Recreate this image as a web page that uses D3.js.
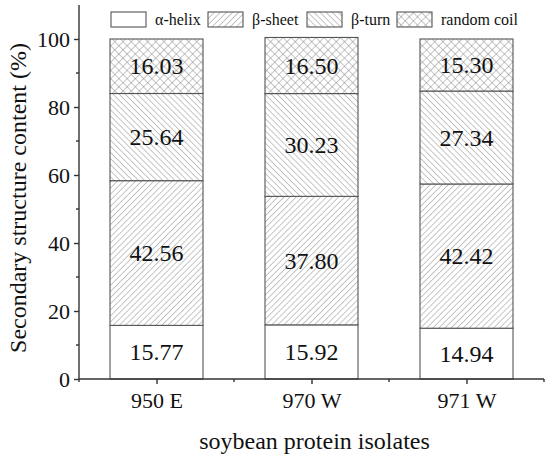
<!DOCTYPE html>
<html>
<head>
<meta charset="utf-8">
<script src="https://cdn.jsdelivr.net/npm/d3@7"></script>
<style>
  body { margin: 0; background: #fff; }
</style>
</head>
<body>
<svg class="chart" width="550" height="459"></svg>
<script>
// data
var samples = ["950 E", "970 W", "971 W"];
var structures = ["α-helix", "β-sheet", "β-turn", "random coil"];
var alphaHelix = [15.77, 15.92, 14.94];
var betaSheet = [42.56, 37.80, 42.42];
var betaTurn = [25.64, 30.23, 27.34];
var randomCoil = [16.03, 16.50, 15.30];
var yTicks = [0, 20, 40, 60, 80, 100];

var serif = "'Liberation Serif', 'Times New Roman', Times, 'DejaVu Serif', serif";

document.addEventListener("DOMContentLoaded", function() {

    var svg = d3.select("svg.chart");
    var left = 79, right = 544, top = 5, bottom = 379;

    var x = d3.scaleLinear().domain([0.5, 3.5]).range([left, right]);
    var y = d3.scaleLinear().domain([0, 110]).range([bottom, top]);
    var barW = x(1.3) - x(0.7);

    // hatch patterns
    var defs = svg.append("defs");
    function hatch(id, angle, size) {
        var p = defs.append("pattern")
            .attr("id", id)
            .attr("patternUnits", "userSpaceOnUse")
            .attr("width", size).attr("height", size)
            .attr("patternTransform", "rotate(" + angle + ")");
        p.append("rect").attr("width", size).attr("height", size).attr("fill", "#fff");
        p.append("line")
            .attr("x1", 0).attr("x2", 0).attr("y1", 0).attr("y2", size)
            .attr("stroke", "#808080").attr("stroke-width", 0.9);
        return p;
    }
    hatch("sheet", 45, 4.3);
    hatch("turn", -45, 4.3);
    var cross = hatch("coil", 45, 5.8);
    cross.append("line")
        .attr("x1", 0).attr("x2", 5.8).attr("y1", 0).attr("y2", 0)
        .attr("stroke", "#808080").attr("stroke-width", 0.9);

    var fills = ["#fff", "url(#sheet)", "url(#turn)", "url(#coil)"];

    var rows = samples.map(function(s, i) {
        return {
            sample: i + 1,
            "α-helix": alphaHelix[i],
            "β-sheet": betaSheet[i],
            "β-turn": betaTurn[i],
            "random coil": randomCoil[i]
        };
    });
    var stacked = d3.stack().keys(structures)(rows);

    var layers = svg.selectAll("g.layer")
        .data(stacked)
        .enter().append("g")
        .attr("class", "layer")
        .attr("fill", function(d, i) { return fills[i]; });

    layers.selectAll("rect")
        .data(function(d) { return d; })
        .enter().append("rect")
        .attr("x", function(d) { return x(d.data.sample) - barW / 2; })
        .attr("y", function(d) { return y(d[1]); })
        .attr("width", barW)
        .attr("height", function(d) { return y(d[0]) - y(d[1]); })
        .attr("stroke", "#555")
        .attr("stroke-width", 1.1);

    layers.selectAll("text")
        .data(function(d) { return d; })
        .enter().append("text")
        .attr("x", function(d) { return x(d.data.sample); })
        .attr("y", function(d) { return y((d[0] + d[1]) / 2); })
        .attr("dy", "0.34em")
        .attr("text-anchor", "middle")
        .style("font-size", "24px")
        .text(function(d) { return (d[1] - d[0]).toFixed(2); });

    // y axis
    var yAxis = svg.append("g")
        .attr("transform", "translate(" + left + ",0)")
        .call(d3.axisLeft(y).tickValues(yTicks).tickSize(5).tickPadding(4));
    yAxis.append("g").selectAll("line")
        .data(d3.range(10, 110, 20))
        .enter().append("line")
        .attr("x1", -3).attr("x2", 0)
        .attr("y1", function(d) { return y(d); })
        .attr("y2", function(d) { return y(d); });
    yAxis.select(".domain").attr("d", "M0," + top + "V" + bottom);

    // x axis
    var xAxis = svg.append("g")
        .attr("transform", "translate(0," + bottom + ")")
        .call(d3.axisBottom(x).tickValues([1, 2, 3])
            .tickFormat(function(d) { return samples[d - 1]; })
            .tickSize(5).tickPadding(8));
    xAxis.append("g").selectAll("line")
        .data([0.5, 1.5, 2.5, 3.5])
        .enter().append("line")
        .attr("x1", function(d) { return x(d); })
        .attr("x2", function(d) { return x(d); })
        .attr("y1", 0).attr("y2", 3);
    xAxis.select(".domain").attr("d", "M" + left + ",0H" + right);

    svg.selectAll(".domain, .tick line").attr("stroke", "#333").attr("stroke-width", 1.4);
    svg.selectAll("g g line").attr("stroke", "#333").attr("stroke-width", 1.4);
    svg.selectAll(".tick text").style("font-size", "22px");

    // axis titles
    svg.append("text")
        .attr("x", (left + right) / 2 + 3)
        .attr("y", 449)
        .attr("text-anchor", "middle")
        .style("font-size", "24px")
        .text("soybean protein isolates");

    svg.append("text")
        .attr("transform", "translate(26,198) rotate(-90)")
        .attr("text-anchor", "middle")
        .style("font-size", "24px")
        .text("Secondary structure content (%)");

    // legend
    var legendX = [111, 208, 307, 397];
    var legend = svg.selectAll("g.legend")
        .data(structures)
        .enter().append("g")
        .attr("class", "legend")
        .attr("transform", function(d, i) { return "translate(" + legendX[i] + ",12)"; });
    legend.append("rect")
        .attr("width", 35).attr("height", 15)
        .attr("fill", function(d, i) { return fills[i]; })
        .attr("stroke", "#555").attr("stroke-width", 1.1);
    legend.append("text")
        .attr("x", 44).attr("y", 13)
        .style("font-size", "16px")
        .text(function(d) { return d; });

    // every text in a Times-like face
    svg.selectAll("text")
        .style("font-family", serif)
        .attr("fill", "#111");
});
</script>
</body>
</html>
